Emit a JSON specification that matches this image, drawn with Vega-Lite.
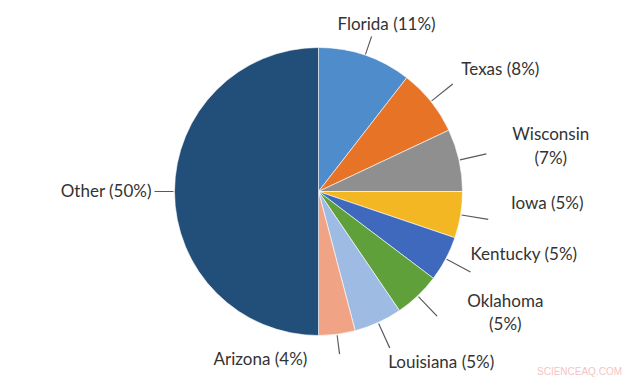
{
  "$schema": "https://vega.github.io/schema/vega-lite/v6.json",
  "width": 637,
  "height": 383,
  "autosize": {"type": "fit", "contains": "padding"},
  "padding": 1,
  "background": "white",
  "config": {"view": {"stroke": "#cfcfcf", "strokeWidth": 1.5}},
  "title": {
    "text": "SCIENCEAQ.COM",
    "orient": "bottom",
    "anchor": "end",
    "offset": -15,
    "dx": -14,
    "font": "Liberation Sans",
    "fontSize": 10,
    "fontWeight": "normal",
    "color": "#f4c4c4"
  },
  "data": {
    "values": [
      {"state": "Florida", "value": 10.5, "label": "Florida (11%)"},
      {"state": "Texas", "value": 7.5, "label": "Texas (8%)"},
      {"state": "Wisconsin", "value": 7.0, "label": "Wisconsin\n(7%)"},
      {"state": "Iowa", "value": 5.2, "label": "Iowa (5%)"},
      {"state": "Kentucky", "value": 5.1, "label": "Kentucky (5%)"},
      {"state": "Oklahoma", "value": 5.2, "label": "Oklahoma\n(5%)"},
      {"state": "Louisiana", "value": 5.4, "label": "Louisiana (5%)"},
      {"state": "Arizona", "value": 4.1, "label": "Arizona (4%)"},
      {"state": "Other", "value": 50.0, "label": "Other (50%)"}
    ]
  },
  "transform": [
    {"stack": "value", "groupby": [], "as": ["v0", "v1"]},
    {"calculate": "(datum.v0 + datum.v1) / 2", "as": "mid"},
    {"calculate": "datum.mid - 0.06", "as": "l0"},
    {"calculate": "datum.mid + 0.06", "as": "l1"}
  ],
  "layer": [
    {
      "mark": {"type": "arc", "outerRadius": 144, "stroke": "white", "strokeWidth": 0.6},
      "encoding": {
        "theta": {"field": "v0", "type": "quantitative", "scale": {"domain": [0, 100], "nice": false, "zero": true}},
        "theta2": {"field": "v1"},
        "color": {
          "field": "state",
          "type": "nominal",
          "legend": null,
          "scale": {
            "domain": ["Florida", "Texas", "Wisconsin", "Iowa", "Kentucky", "Oklahoma", "Louisiana", "Arizona", "Other"],
            "range": ["#4e8ccb", "#e77326", "#8f8f8f", "#f2b722", "#3f69bd", "#60a03b", "#9dbbe3", "#f1a386", "#224e7a"]
          }
        }
      }
    },
    {
      "transform": [{"filter": "datum.state == 'Florida' || datum.state == 'Other' || datum.state == 'Arizona'"}],
      "mark": {"type": "arc", "radius": 164, "radius2": 145, "color": "#595959"},
      "encoding": {
        "theta": {"field": "l0", "type": "quantitative"},
        "theta2": {"field": "l1"}
      }
    },
    {
      "transform": [{"filter": "datum.state != 'Florida' && datum.state != 'Other' && datum.state != 'Arizona'"}],
      "mark": {"type": "arc", "radius": 172, "radius2": 145, "color": "#595959"},
      "encoding": {
        "theta": {"field": "l0", "type": "quantitative"},
        "theta2": {"field": "l1"}
      }
    },
    {
      "transform": [{"filter": "datum.state == 'Florida'"}],
      "mark": {"type": "text", "radius": 176, "align": "center", "baseline": "middle", "dx": 11, "font": "Lato", "fontSize": 17, "color": "#333333"},
      "encoding": {"theta": {"field": "mid", "type": "quantitative"}, "text": {"field": "label"}}
    },
    {
      "transform": [{"filter": "datum.state == 'Texas'"}],
      "mark": {"type": "text", "radius": 183, "align": "left", "baseline": "middle", "dy": -7, "font": "Lato", "fontSize": 17, "color": "#333333"},
      "encoding": {"theta": {"field": "mid", "type": "quantitative"}, "text": {"field": "label"}}
    },
    {
      "transform": [{"filter": "datum.state == 'Wisconsin'"}],
      "mark": {"type": "text", "radius": 238, "align": "center", "baseline": "middle", "dy": -5, "lineBreak": "\n", "lineHeight": 24, "font": "Lato", "fontSize": 17, "color": "#333333"},
      "encoding": {"theta": {"field": "mid", "type": "quantitative"}, "text": {"field": "label"}}
    },
    {
      "transform": [{"filter": "datum.state == 'Iowa'"}],
      "mark": {"type": "text", "radius": 195, "align": "left", "baseline": "middle", "dy": -19, "font": "Lato", "fontSize": 17, "color": "#333333"},
      "encoding": {"theta": {"field": "mid", "type": "quantitative"}, "text": {"field": "label"}}
    },
    {
      "transform": [{"filter": "datum.state == 'Kentucky'"}],
      "mark": {"type": "text", "radius": 172, "align": "left", "baseline": "middle", "dy": -17, "font": "Lato", "fontSize": 17, "color": "#333333"},
      "encoding": {"theta": {"field": "mid", "type": "quantitative"}, "text": {"field": "label"}}
    },
    {
      "transform": [{"filter": "datum.state == 'Oklahoma'"}],
      "mark": {"type": "text", "radius": 200, "align": "center", "baseline": "middle", "dx": 49, "dy": -34, "lineBreak": "\n", "lineHeight": 23, "font": "Lato", "fontSize": 17, "color": "#333333"},
      "encoding": {"theta": {"field": "mid", "type": "quantitative"}, "text": {"field": "label"}}
    },
    {
      "transform": [{"filter": "datum.state == 'Louisiana'"}],
      "mark": {"type": "text", "radius": 185, "align": "left", "baseline": "middle", "dx": -7, "dy": 3, "font": "Lato", "fontSize": 17, "color": "#333333"},
      "encoding": {"theta": {"field": "mid", "type": "quantitative"}, "text": {"field": "label"}}
    },
    {
      "transform": [{"filter": "datum.state == 'Arizona'"}],
      "mark": {"type": "text", "radius": 170, "align": "right", "baseline": "middle", "dx": -33, "font": "Lato", "fontSize": 17, "color": "#333333"},
      "encoding": {"theta": {"field": "mid", "type": "quantitative"}, "text": {"field": "label"}}
    },
    {
      "transform": [{"filter": "datum.state == 'Other'"}],
      "mark": {"type": "text", "radius": 167, "align": "right", "baseline": "middle", "font": "Lato", "fontSize": 17, "color": "#333333"},
      "encoding": {"theta": {"field": "mid", "type": "quantitative"}, "text": {"field": "label"}}
    }
  ]
}
